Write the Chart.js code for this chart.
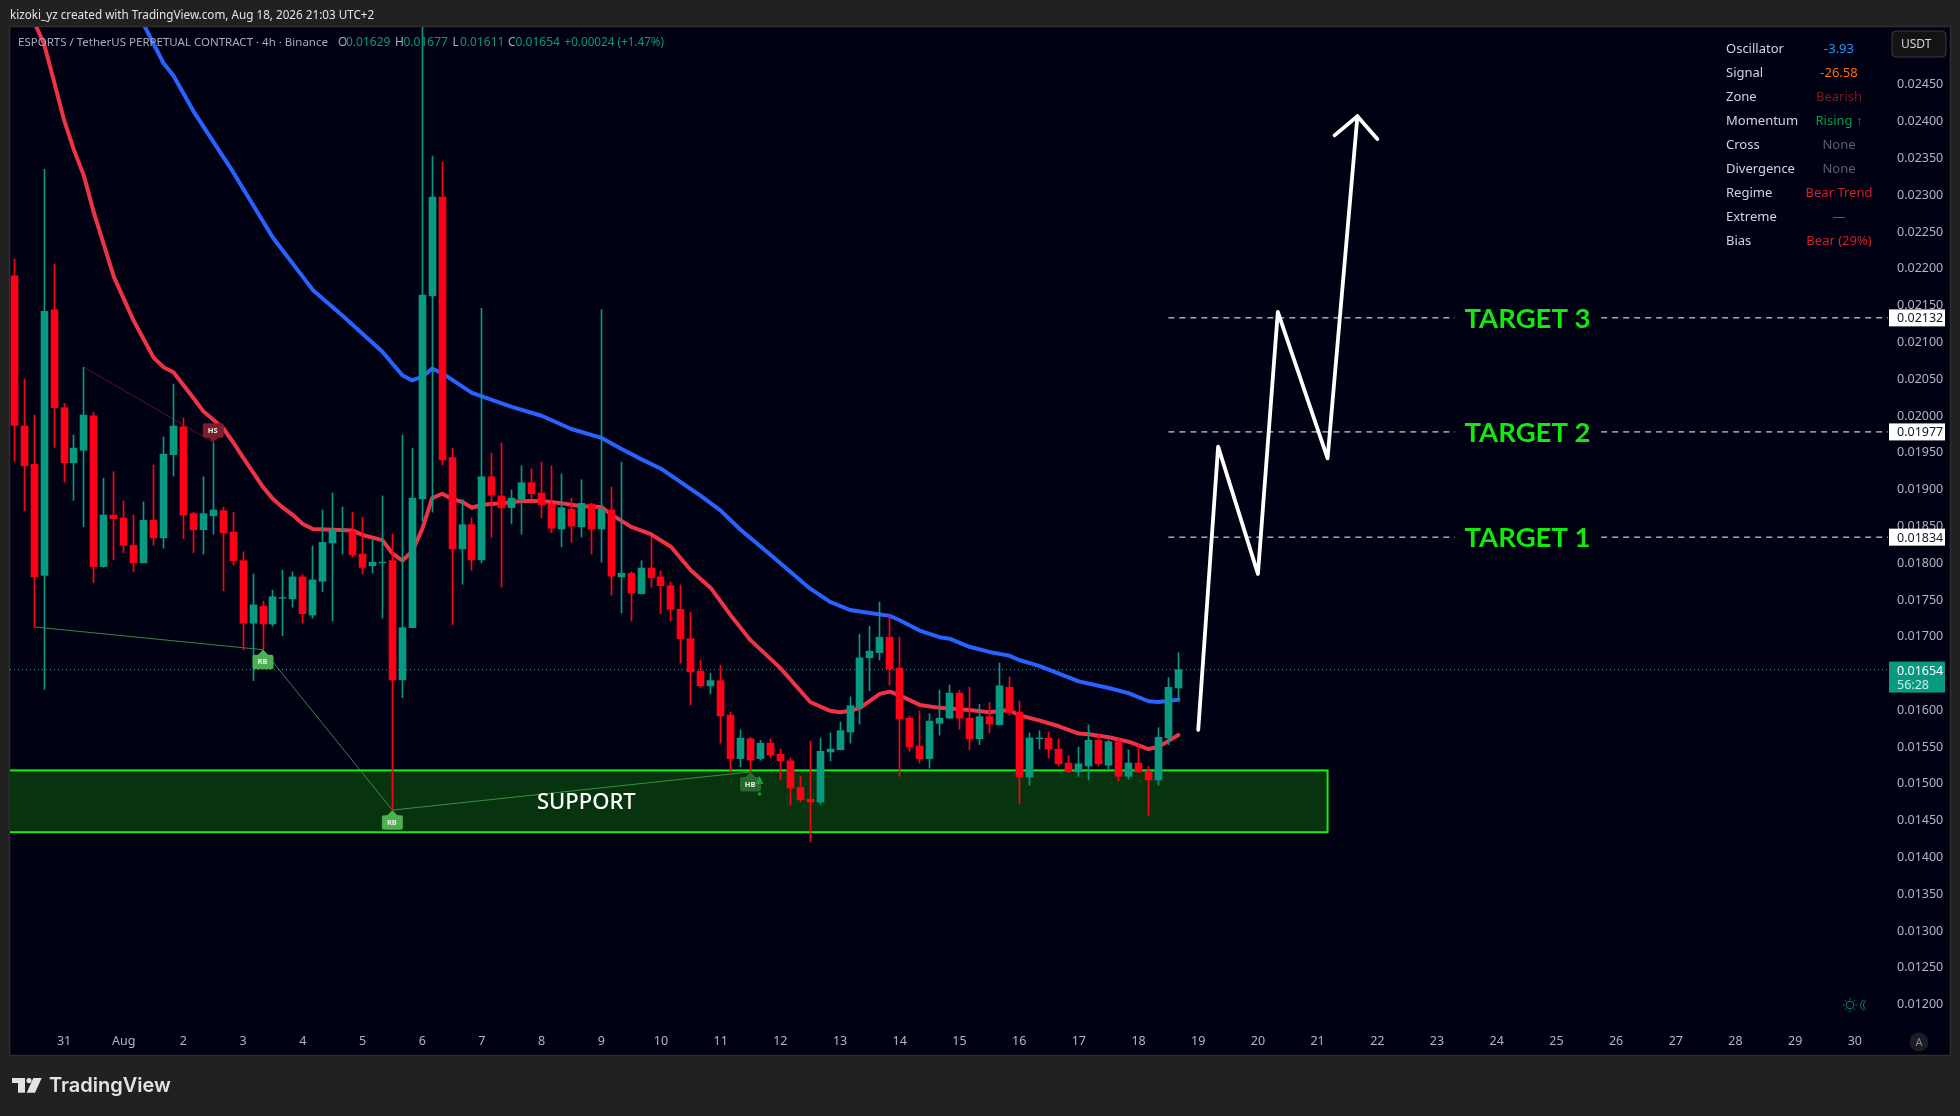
<!DOCTYPE html>
<html>
<head>
<meta charset="utf-8">
<title>ESPORTS / TetherUS 4h</title>
<script src="https://cdn.jsdelivr.net/npm/chart.js@4/dist/chart.umd.min.js"></script>
<style>
  html, body { margin: 0; padding: 0; background: #212121; }
  canvas { display: block; }
</style>
</head>
<body>
<canvas id="chart" width="1960" height="1116"></canvas>
<script>
// candles, 4h
const opens = [0.02189,0.01985,0.01933,0.01782,0.02143,0.02010,0.01935,0.01952,0.01999,0.01794,
  0.01864,0.01860,0.01823,0.01799,0.01857,0.01833,0.01946,0.01984,0.01866,0.01844,
  0.01863,0.01870,0.01841,0.01802,0.01717,0.01740,0.01716,0.01751,0.01750,0.01780,
  0.01728,0.01774,0.01826,0.01844,0.01842,0.01811,0.01795,0.01799,0.01802,0.01640,
  0.01711,0.01886,0.02162,0.02296,0.01942,0.01818,0.01851,0.01803,0.01916,0.01890,
  0.01874,0.01886,0.01908,0.01894,0.01879,0.01845,0.01872,0.01848,0.01879,0.01845,
  0.01871,0.01780,0.01785,0.01757,0.01792,0.01780,0.01768,0.01736,0.01696,0.01652,
  0.01632,0.01639,0.01592,0.01533,0.01560,0.01533,0.01554,0.01539,0.01530,0.01494,
  0.01478,0.01474,0.01542,0.01545,0.01569,0.01603,0.01670,0.01677,0.01698,0.01656,
  0.01588,0.01550,0.01533,0.01581,0.01588,0.01622,0.01588,0.01560,0.01590,0.01579,
  0.01630,0.01596,0.01508,0.01560,0.01561,0.01546,0.01527,0.01515,0.01523,0.01558,
  0.01524,0.01556,0.01509,0.01527,0.01516,0.01504,0.01561,0.01629];
const highs = [0.02212,0.02049,0.02000,0.02334,0.02205,0.02016,0.01973,0.02065,0.02004,0.01914,
  0.01923,0.01883,0.01864,0.01882,0.01932,0.01970,0.02042,0.01996,0.01868,0.01916,
  0.01962,0.01875,0.01868,0.01814,0.01784,0.01747,0.01762,0.01789,0.01787,0.01783,
  0.01822,0.01871,0.01894,0.01875,0.01868,0.01861,0.01830,0.01890,0.01838,0.01973,
  0.01955,0.02540,0.02352,0.02344,0.01955,0.01885,0.01860,0.02145,0.01948,0.01962,
  0.01898,0.01931,0.01927,0.01936,0.01931,0.01920,0.01887,0.01912,0.01880,0.02143,
  0.01902,0.01936,0.01787,0.01802,0.01834,0.01788,0.01773,0.01769,0.01732,0.01667,
  0.01649,0.01660,0.01596,0.01572,0.01562,0.01558,0.01560,0.01546,0.01534,0.01509,
  0.01557,0.01561,0.01568,0.01583,0.01617,0.01702,0.01713,0.01746,0.01727,0.01698,
  0.01591,0.01598,0.01594,0.01626,0.01633,0.01626,0.01630,0.01607,0.01609,0.01663,
  0.01644,0.01611,0.01568,0.01571,0.01569,0.01560,0.01537,0.01549,0.01579,0.01565,
  0.01558,0.01560,0.01545,0.01554,0.01522,0.01575,0.01643,0.01677];
const lows = [0.01937,0.01870,0.01712,0.01627,0.01956,0.01909,0.01884,0.01848,0.01772,0.01793,
  0.01803,0.01813,0.01787,0.01799,0.01823,0.01819,0.01917,0.01832,0.01813,0.01811,
  0.01838,0.01761,0.01796,0.01681,0.01639,0.01681,0.01713,0.01700,0.01739,0.01717,
  0.01724,0.01760,0.01720,0.01811,0.01807,0.01784,0.01785,0.01724,0.01463,0.01616,
  0.01711,0.01856,0.01868,0.01932,0.01715,0.01770,0.01789,0.01799,0.01834,0.01766,
  0.01852,0.01838,0.01886,0.01860,0.01840,0.01821,0.01827,0.01834,0.01811,0.01800,
  0.01755,0.01731,0.01720,0.01757,0.01766,0.01730,0.01720,0.01663,0.01606,0.01630,
  0.01621,0.01554,0.01515,0.01522,0.01515,0.01531,0.01534,0.01504,0.01470,0.01475,
  0.01420,0.01471,0.01530,0.01545,0.01554,0.01580,0.01625,0.01667,0.01633,0.01509,
  0.01543,0.01527,0.01520,0.01565,0.01588,0.01573,0.01545,0.01552,0.01568,0.01579,
  0.01592,0.01471,0.01497,0.01546,0.01534,0.01523,0.01514,0.01509,0.01504,0.01523,
  0.01519,0.01503,0.01505,0.01514,0.01456,0.01497,0.01552,0.01611];
const closes = [0.01986,0.01931,0.01780,0.02141,0.02010,0.01935,0.01955,0.02000,0.01794,0.01864,
  0.01859,0.01823,0.01799,0.01857,0.01833,0.01947,0.01985,0.01864,0.01844,0.01866,
  0.01871,0.01840,0.01802,0.01717,0.01742,0.01716,0.01753,0.01752,0.01780,0.01730,
  0.01776,0.01827,0.01844,0.01845,0.01810,0.01793,0.01800,0.01800,0.01640,0.01711,
  0.01887,0.02163,0.02296,0.01939,0.01818,0.01851,0.01803,0.01916,0.01891,0.01874,
  0.01887,0.01908,0.01893,0.01878,0.01846,0.01874,0.01849,0.01880,0.01845,0.01872,
  0.01781,0.01785,0.01758,0.01792,0.01779,0.01768,0.01736,0.01696,0.01651,0.01632,
  0.01639,0.01591,0.01533,0.01561,0.01531,0.01554,0.01538,0.01530,0.01493,0.01477,
  0.01474,0.01543,0.01546,0.01571,0.01605,0.01670,0.01679,0.01698,0.01655,0.01587,
  0.01549,0.01533,0.01584,0.01588,0.01622,0.01588,0.01560,0.01590,0.01580,0.01632,
  0.01596,0.01508,0.01561,0.01561,0.01546,0.01526,0.01516,0.01526,0.01558,0.01526,
  0.01556,0.01509,0.01527,0.01515,0.01504,0.01562,0.01630,0.01654];

// moving averages, read at the bars where they bend
const redBars = [2,3,4,5,6,7,8,10,12,14,15,16,18,19,21,22,23,25,26,27,28,29,30,32,34,35,37,38,39,40,41,42,43,44,45,46,47,49,51,53,55,57,59,60,62,64,66,68,70,72,74,77,80,82,83,84,85,87,88,89,91,93,96,98,100,101,103,105,107,108,110,112,114,115,117];
const redValues = [0.02534,0.02504,0.02453,0.02401,0.02360,0.02325,0.02275,0.02188,0.02128,0.02078,0.02065,0.02058,0.02023,0.02005,0.01982,0.01963,0.01942,0.01902,0.01886,0.01874,0.01864,0.01852,0.01845,0.01844,0.01843,0.01837,0.01830,0.01812,0.01802,0.01815,0.01845,0.01887,0.01893,0.01886,0.01882,0.01874,0.01878,0.01880,0.01883,0.01883,0.01880,0.01876,0.01875,0.01865,0.01848,0.01838,0.01821,0.01789,0.01765,0.01728,0.01694,0.01656,0.01610,0.01598,0.01596,0.01598,0.01602,0.01621,0.01624,0.01619,0.01606,0.01602,0.01599,0.01596,0.01599,0.01592,0.01585,0.01577,0.01567,0.01566,0.01562,0.01556,0.01546,0.01549,0.01565];
const blueBars = [13,15,16,18,22,26,30,33,37,39,40,41,42,43,46,50,53,56,59,61,63,65,69,71,73,76,80,82,84,86,88,89,91,93,94,96,98,100,101,103,107,110,112,114,115,117];
const blueValues = [0.02531,0.02478,0.02461,0.02413,0.02330,0.02241,0.02170,0.02135,0.02086,0.02054,0.02047,0.02052,0.02063,0.02057,0.02030,0.02011,0.01999,0.01981,0.01969,0.01954,0.01940,0.01927,0.01890,0.01870,0.01844,0.01810,0.01764,0.01746,0.01735,0.01731,0.01727,0.01721,0.01707,0.01698,0.01696,0.01685,0.01678,0.01673,0.01667,0.01659,0.01638,0.01629,0.01622,0.01611,0.01610,0.01613];

// pattern lines on the swing points
const hsBars = [7,20];
const hsValues = [0.02065,0.01963];
const rbBars = [2,25,38,74];
const rbValues = [0.01712,0.01681,0.01463,0.01515];

// hand drawn projection
const pathBars = [119,121,125,127,132,135];
const pathValues = [0.01572,0.01957,0.01784,0.02140,0.01941,0.02406];
const headBars = [132.7,135,137];
const headValues = [0.02380,0.02406,0.02375];

const targetPrices = [0.01834,0.01977,0.02132];
const targetNames = ['TARGET 1','TARGET 2','TARGET 3'];
const lastPrice = 0.01654;
const supportTop = 0.01517;
const supportBottom = 0.01433;

const priceTicks = [0.012,0.0125,0.013,0.0135,0.014,0.0145,0.015,0.0155,0.016,0.0165,0.017,0.0175,0.018,0.0185,0.019,0.0195,0.02,0.0205,0.021,0.0215,0.022,0.0225,0.023,0.0235,0.024,0.0245];
const dayBars = [5,11,17,23,29,35,41,47,53,59,65,71,77,83,89,95,101,107,113,119,125,131,137,143,149,155,161,167,173,179,185];
const dayLabels = ['31','Aug','2','3','4','5','6','7','8','9','10','11','12','13','14','15','16','17','18','19','20','21','22','23','24','25','26','27','28','29','30'];

const tableLabels = ['Oscillator','Signal','Zone','Momentum','Cross','Divergence','Regime','Extreme','Bias'];
const tableValues = ['-3.93','-26.58','Bearish','Rising ↑','None','None','Bear Trend','—','Bear (29%)'];
const tableColors = ['#2196f3','#ff6d00','#7a1a22','#089c45','#5d606b','#5d606b','#d0202c','#5d606b','#d0202c'];

const markerLabels = ['HS','RB','RB','HB'];
const markerBars = [20,25,38,74];
const markerPrices = [0.01963,0.01681,0.01463,0.01515];
const markerColors = ['#7c1d2c','#4caf50','#4caf50','#27682f'];

const GREEN = '#089981';
const RED = '#ff0019';
const FONT = '"Noto Sans"';

const barIndex = opens.map((v, i) => i);
const candleColors = opens.map((o, i) => (closes[i] >= o ? GREEN : RED));

function pairs(xs, ys) {
  return xs.map((x, i) => ({ x: x, y: ys[i] }));
}

function lineSet(data, color, width, order, dash) {
  return {
    type: 'line',
    data: data,
    borderColor: color,
    borderWidth: width,
    borderDash: dash || [],
    pointRadius: 0,
    tension: 0,
    order: order,
    borderCapStyle: 'round',
    borderJoinStyle: 'round',
  };
}

const xMin = -0.432;
const xMax = 188.33;

const datasets = [
  Object.assign(lineSet([{ x: xMin, y: lastPrice }, { x: xMax, y: lastPrice }], GREEN, 1.3, 9, [1, 3]), { borderCapStyle: 'butt' }),
  lineSet(pairs(redBars, redValues), '#ee3347', 4, 8),
  lineSet(pairs(blueBars, blueValues), '#2962ff', 4, 8),
  lineSet(pairs(hsBars, hsValues), '#5e1220', 1, 7),
  lineSet(pairs(rbBars, rbValues), 'rgba(76,175,80,0.75)', 1, 7),
  {
    type: 'bar',
    data: barIndex.map((i) => ({ x: i, y: [lows[i], highs[i]] })),
    backgroundColor: candleColors,
    barThickness: 1,
    grouped: false,
    order: 5,
  },
  {
    type: 'bar',
    data: barIndex.map((i) => ({ x: i, y: [opens[i], closes[i]] })),
    backgroundColor: candleColors,
    barThickness: 7,
    grouped: false,
    order: 4,
  },
  lineSet(pairs(pathBars, pathValues), '#ffffff', 3.8, 2),
  lineSet(pairs(headBars, headValues), '#ffffff', 3.8, 2),
];

// dashes of each target stop around the name in the middle
targetPrices.forEach((p) => {
  datasets.push(Object.assign(lineSet([{ x: 116, y: p }, { x: 144.8, y: p }], '#ffffff', 1, 3, [6, 5]), { borderCapStyle: 'butt' }));
  datasets.push(Object.assign(lineSet([{ x: 159.5, y: p }, { x: xMax, y: p }], '#ffffff', 1, 3, [6, 5]), { borderCapStyle: 'butt' }));
});

function text(ctx, str, x, y, font, color, align) {
  ctx.font = font;
  ctx.fillStyle = color;
  ctx.textAlign = align || 'left';
  ctx.textBaseline = 'middle';
  // middle baseline of these fonts sits a little high
  ctx.fillText(str, x, y + 1);
}

function roundBox(ctx, x, y, w, h, r) {
  ctx.beginPath();
  ctx.roundRect(x, y, w, h, r);
}

function drawMarker(ctx, x, tipY, label, color) {
  // tip sits on the swing price, box hangs off it
  const up = label !== 'HS';
  const boxY = up ? tipY + 5 : tipY - 19;
  ctx.fillStyle = color;
  roundBox(ctx, x - 10.5, boxY, 21, 14.5, 2);
  ctx.fill();
  ctx.beginPath();
  ctx.moveTo(x, tipY);
  ctx.lineTo(x - 6, up ? tipY + 6 : tipY - 6);
  ctx.lineTo(x + 6, up ? tipY + 6 : tipY - 6);
  ctx.fill();
  text(ctx, label, x - 0.5, boxY + 6.5, 'bold 7.5px ' + FONT, '#e8efe8', 'center');
}

function drawLogo(ctx) {
  ctx.fillStyle = '#e3e3e3';
  ctx.fillRect(12, 1078, 13, 5);
  ctx.fillRect(18, 1078, 7, 14.7);
  ctx.beginPath();
  ctx.arc(29, 1080.6, 2.6, 0, Math.PI * 2);
  ctx.fill();
  ctx.beginPath();
  ctx.moveTo(33.3, 1078);
  ctx.lineTo(41.7, 1078);
  ctx.lineTo(35, 1092.7);
  ctx.lineTo(26.7, 1092.7);
  ctx.closePath();
  ctx.fill();
  text(ctx, 'TradingView', 49, 1085, '600 20px Inter', '#e3e3e3');
}

function drawThemeIcon(ctx) {
  const c = '#0b7f6d';
  ctx.strokeStyle = c;
  ctx.lineWidth = 1;
  ctx.beginPath();
  ctx.arc(1850, 1005, 3.8, 0, Math.PI * 2);
  ctx.stroke();
  for (let a = 0; a < 8; a++) {
    const t = (a * Math.PI) / 4;
    ctx.beginPath();
    ctx.moveTo(1850 + Math.cos(t) * 5.2, 1005 + Math.sin(t) * 5.2);
    ctx.lineTo(1850 + Math.cos(t) * 7, 1005 + Math.sin(t) * 7);
    ctx.stroke();
  }
  ctx.beginPath();
  ctx.arc(1866, 1005, 5.5, Math.PI * 0.6, Math.PI * 1.4);
  ctx.stroke();
  ctx.beginPath();
  ctx.arc(1869, 1005, 5.5, Math.PI * 0.68, Math.PI * 1.32);
  ctx.stroke();
}

const tvPlugin = {
  id: 'tv',
  beforeDraw(chart) {
    const ctx = chart.ctx;
    ctx.save();
    ctx.fillStyle = '#212121';
    ctx.fillRect(0, 0, 1960, 1116);
    ctx.fillStyle = '#010114';
    ctx.fillRect(10, 27, 1940, 1028);
    ctx.strokeStyle = '#2e2e2e';
    ctx.lineWidth = 1.5;
    ctx.strokeRect(9.5, 26.5, 1941, 1029);
    ctx.restore();
    // nudge price labels down a pixel, same reason as text()
    const yScale = chart.scales.y;
    if (!yScale.nudged) {
      const drawLabels = yScale.drawLabels;
      yScale.drawLabels = function (area) {
        ctx.save();
        ctx.translate(0, 1);
        drawLabels.call(this, area);
        ctx.restore();
      };
      yScale.nudged = true;
    }
  },
  beforeDatasetsDraw(chart) {
    const ctx = chart.ctx;
    const x = chart.scales.x;
    const y = chart.scales.y;
    const a = chart.chartArea;
    const right = x.getPixelForValue(132);
    const top = y.getPixelForValue(supportTop);
    const bottom = y.getPixelForValue(supportBottom);
    ctx.save();
    ctx.beginPath();
    ctx.rect(a.left, a.top, a.width, a.height);
    ctx.clip();
    ctx.fillStyle = '#07330e';
    ctx.fillRect(a.left - 5, top, right - a.left + 5, bottom - top);
    ctx.strokeStyle = '#17ee0c';
    ctx.lineWidth = 2;
    ctx.strokeRect(a.left - 5, top, right - a.left + 5, bottom - top);
    ctx.restore();
    // keep wicks and bodies on whole pixels
    chart.data.datasets.forEach((d, i) => {
      if (d.type !== 'bar') return;
      chart.getDatasetMeta(i).data.forEach((el) => {
        el.x = Math.floor(el.x) + 0.5;
      });
    });
  },
  afterDraw(chart) {
    const ctx = chart.ctx;
    const x = chart.scales.x;
    const y = chart.scales.y;
    ctx.save();

    // header and symbol line
    text(ctx, 'kizoki_yz created with TradingView.com, Aug 18, 2026 21:03 UTC+2', 10, 14.5, '11.7px ' + FONT, '#e4e4e4');
    const legendFont = '12px ' + FONT;
    text(ctx, 'ESPORTS / TetherUS PERPETUAL CONTRACT · 4h · Binance', 18, 41.5, '11.5px ' + FONT, '#a9acb5');
    const ohlcLabels = ['O', 'H', 'L', 'C'];
    const ohlcValues = ['0.01629', '0.01677', '0.01611', '0.01654'];
    const ohlcLabelX = [338, 395, 452.5, 508];
    const ohlcValueX = [346, 403.5, 460, 515.5];
    ohlcLabels.forEach((l, i) => {
      text(ctx, l, ohlcLabelX[i], 41.5, legendFont, '#a9acb5');
      text(ctx, ohlcValues[i], ohlcValueX[i], 41.5, legendFont, GREEN);
    });
    text(ctx, '+0.00024 (+1.47%)', 564.5, 41.5, '11.7px ' + FONT, GREEN);

    // pattern markers
    markerLabels.forEach((l, i) => {
      drawMarker(ctx, x.getPixelForValue(markerBars[i]), y.getPixelForValue(markerPrices[i]), l, markerColors[i]);
    });
    const hbX = x.getPixelForValue(markerBars[3]);
    const hbY = y.getPixelForValue(markerPrices[3]);
    ctx.fillStyle = '#1f9a3c';
    ctx.beginPath();
    ctx.moveTo(hbX + 9, hbY + 4);
    ctx.lineTo(hbX + 5, hbY + 12);
    ctx.lineTo(hbX + 13, hbY + 12);
    ctx.fill();
    ctx.beginPath();
    ctx.arc(hbX + 9, hbY + 22, 1.6, 0, Math.PI * 2);
    ctx.fill();

    text(ctx, 'SUPPORT', x.getPixelForValue(57.5), y.getPixelForValue((supportTop + supportBottom) / 2), '500 22px ' + FONT, '#ffffff', 'center');

    // targets with their axis tags
    targetPrices.forEach((p, i) => {
      const py = y.getPixelForValue(p);
      text(ctx, targetNames[i], x.getPixelForValue(152.1), py, '700 27.5px Lato', '#14e80c', 'center');
      ctx.fillStyle = '#ffffff';
      ctx.fillRect(1889, py - 8.5, 56, 17);
      text(ctx, p.toFixed(5), 1897, py, '12.5px ' + FONT, '#131722');
    });

    // last price tag
    const lastY = y.getPixelForValue(lastPrice);
    ctx.fillStyle = GREEN;
    ctx.fillRect(1889, lastY - 8, 56, 31);
    text(ctx, lastPrice.toFixed(5), 1897, lastY + 1, '12.5px ' + FONT, '#ffffff');
    text(ctx, '56:28', 1897, lastY + 15, '12.5px ' + FONT, '#cfeee8');

    // oscillator table
    tableLabels.forEach((l, i) => {
      const rowY = 48 + i * 24;
      text(ctx, l, 1726, rowY, '13px ' + FONT, '#d1d4dc');
      text(ctx, tableValues[i], 1839, rowY, '13px ' + FONT, tableColors[i], 'center');
    });

    // currency button
    ctx.fillStyle = '#131313';
    ctx.strokeStyle = '#3a3a3a';
    ctx.lineWidth = 1;
    roundBox(ctx, 1892, 31, 54, 26, 4);
    ctx.fill();
    ctx.stroke();
    text(ctx, 'USDT', 1901, 43.5, '12px ' + FONT, '#d1d4dc');

    // auto scale button
    ctx.fillStyle = '#1c1c22';
    ctx.beginPath();
    ctx.arc(1919, 1042, 9.5, 0, Math.PI * 2);
    ctx.fill();
    text(ctx, 'A', 1919, 1041.5, '11px ' + FONT, '#85868c', 'center');

    drawThemeIcon(ctx);
    drawLogo(ctx);
    ctx.restore();
  },
};

Chart.defaults.font.family = FONT;

new Chart(document.getElementById('chart'), {
  data: { datasets: datasets },
  plugins: [tvPlugin],
  options: {
    responsive: false,
    animation: false,
    devicePixelRatio: 1,
    layout: { padding: { left: 10, top: 27, right: 10, bottom: 61 } },
    plugins: { legend: { display: false }, tooltip: { enabled: false } },
    scales: {
      x: {
        type: 'linear',
        min: xMin,
        max: xMax,
        offset: false,
        grid: { display: false, drawTicks: false },
        border: { display: false },
        afterFit(s) { s.height = 30; },
        afterBuildTicks(s) { s.ticks = dayBars.map((v) => ({ value: v })); },
        ticks: {
          autoSkip: false,
          maxRotation: 0,
          padding: 9,
          color: '#b2b5be',
          font: { size: 12.5 },
          callback(v, i) { return dayLabels[i]; },
        },
      },
      y: {
        type: 'linear',
        position: 'right',
        min: 0.01171,
        max: 0.025273,
        grid: { display: false, drawTicks: false },
        border: { display: false },
        afterFit(s) { s.width = 62; },
        afterBuildTicks(s) { s.ticks = priceTicks.map((v) => ({ value: v })); },
        ticks: {
          autoSkip: false,
          padding: 9,
          color: '#b2b5be',
          font: { size: 12.5 },
          callback(v) { return v.toFixed(5); },
        },
      },
    },
  },
});
</script>
</body>
</html>
